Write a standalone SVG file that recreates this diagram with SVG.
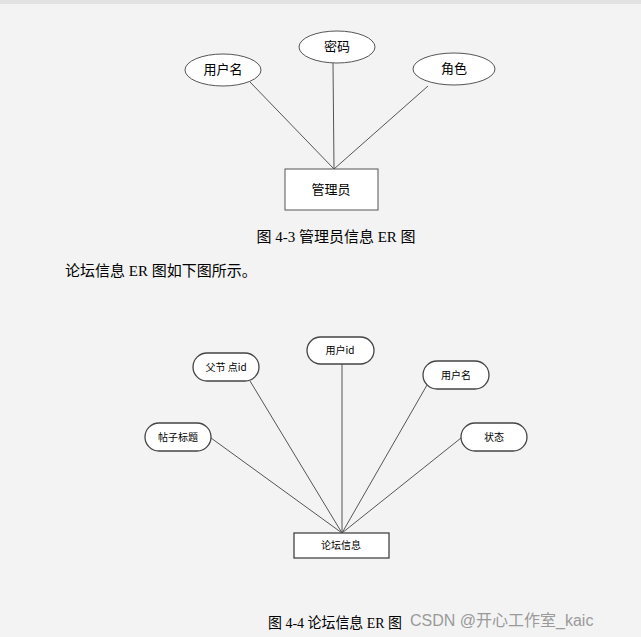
<svg xmlns="http://www.w3.org/2000/svg" width="641" height="637" viewBox="0 0 641 637">
<style>
.e{fill:#fff;stroke:#555;stroke-width:1}
.p{fill:#fff;stroke:#444;stroke-width:1.3}
.t{font-family:"Noto Sans CJK SC",sans-serif;font-size:13px;fill:#000;text-anchor:middle}
.s{font-family:"Noto Sans CJK SC",sans-serif;font-size:10px;fill:#000;text-anchor:middle}
.c{font-family:"Liberation Serif","Noto Sans CJK SC",serif;font-size:15px;fill:#000}
line{stroke:#555;stroke-width:1}
</style>
<rect width="641" height="637" fill="#f3f3f3"/>
<rect width="641" height="4" fill="#e2e2e2"/>
<g id="connectors">
<line x1="250" y1="82" x2="334" y2="169"/>
<line x1="333" y1="63" x2="334" y2="169"/>
<line x1="428" y1="86" x2="334" y2="169"/>
<line x1="211" y1="438" x2="342" y2="533"/>
<line x1="250" y1="381" x2="342" y2="533"/>
<line x1="342" y1="364" x2="342" y2="533"/>
<line x1="427" y1="385" x2="342" y2="533"/>
<line x1="461" y1="438" x2="342" y2="533"/>
</g>
<g id="a1"><ellipse class="e" cx="223" cy="70" rx="38" ry="16"/><text class="t" x="223" y="74">用户名</text></g>
<g id="a2"><ellipse class="e" cx="337" cy="47" rx="38" ry="16"/><text class="t" x="337" y="51">密码</text></g>
<g id="a3"><ellipse class="e" cx="454" cy="69" rx="41" ry="16"/><text class="t" x="454" y="73">角色</text></g>
<g id="admin"><rect class="e" x="285" y="169" width="93" height="41"/><text class="t" x="331" y="194">管理员</text></g>
<text class="c" x="336" y="242" text-anchor="middle">图 4-3 管理员信息 ER 图</text>
<text class="c" x="65" y="276">论坛信息 ER 图如下图所示。</text>
<g id="b1"><rect class="p" x="193" y="353" width="66" height="28" rx="14"/><text class="s" x="226" y="371">父节 点id</text></g>
<g id="b2"><rect class="p" x="307" y="337" width="67" height="27" rx="13.5"/><text class="s" x="340" y="354">用户id</text></g>
<g id="b3"><rect class="p" x="423" y="361" width="66" height="28" rx="14"/><text class="s" x="456" y="379">用户名</text></g>
<g id="b4"><rect class="p" x="145" y="423" width="66" height="28" rx="14"/><text class="s" x="178" y="441">帖子标题</text></g>
<g id="b5"><rect class="p" x="461" y="423" width="66" height="28" rx="14"/><text class="s" x="494" y="441">状态</text></g>
<g id="forum"><rect class="p" x="294" y="533" width="95" height="25"/><text class="s" x="341" y="549">论坛信息</text></g>
<text class="c" x="268" y="628" textLength="134" lengthAdjust="spacingAndGlyphs">图 4-4 论坛信息 ER 图</text>
<text x="410" y="626" font-family="'Liberation Sans','Noto Sans CJK SC',sans-serif" font-size="16" fill="#9a9a9a">CSDN @开心工作室_kaic</text>
</svg>
